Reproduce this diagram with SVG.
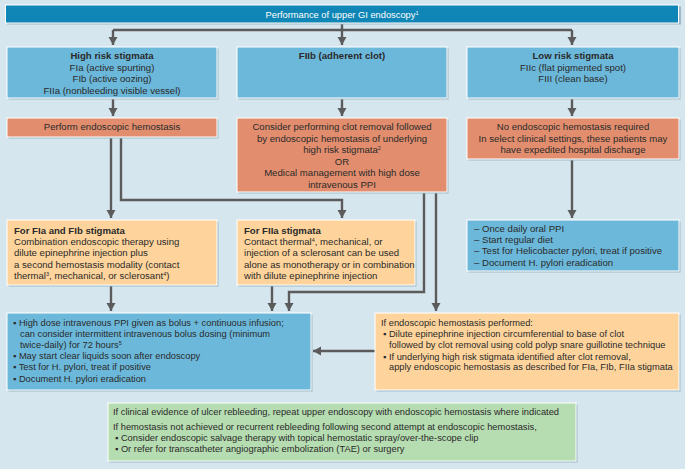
<svg xmlns="http://www.w3.org/2000/svg" width="685" height="469" viewBox="0 0 685 469">
<defs>
<marker id="ah" markerUnits="userSpaceOnUse" markerWidth="10" markerHeight="10" refX="8" refY="4.5" orient="auto">
<path d="M0,0 L8,4.5 L0,9 z" fill="#5b5b5b"/>
</marker>
<style>
.bg{fill:#d6e6ee}
.sh{fill:#9db9c8}
.box{stroke:#ffffff;stroke-width:1}
.title{fill:#0f86b6}
.blue{fill:#6cb8da}
.salmon{fill:#e28e6e}
.peach{fill:#fed49c}
.green{fill:#b6dcb1}
.c{font-family:"Liberation Sans",Arial,sans-serif;font-size:9.6px;fill:#2a2a2a}
.r{font-family:"Liberation Sans",Arial,sans-serif;font-size:9.3px;fill:#2a2a2a}
.m{text-anchor:middle}
.b{font-weight:bold}
.w{fill:#ffffff}
.tt{font-size:9.3px}
.sup{font-size:5.5px}
.ln{fill:none;stroke:#5b5b5b;stroke-width:2.4}
</style>
</defs>
<rect class="bg" x="0" y="0" width="685" height="469"/>

<g id="connectors">
<path class="ln" d="M342,23 V30 M113,30 H572"/>
<path class="ln" d="M113,30 V45" marker-end="url(#ah)"/>
<path class="ln" d="M342,30 V45" marker-end="url(#ah)"/>
<path class="ln" d="M572,30 V45" marker-end="url(#ah)"/>
<path class="ln" d="M113,98 V116" marker-end="url(#ah)"/>
<path class="ln" d="M342,98 V116" marker-end="url(#ah)"/>
<path class="ln" d="M572,98 V116" marker-end="url(#ah)"/>
<path class="ln" d="M111,137 V218" marker-end="url(#ah)"/>
<path class="ln" d="M121,137 V200 H342 V218" marker-end="url(#ah)"/>
<path class="ln" d="M424,192 V292 H289 V311" marker-end="url(#ah)"/>
<path class="ln" d="M436,192 V311" marker-end="url(#ah)"/>
<path class="ln" d="M572,159 V218" marker-end="url(#ah)"/>
<path class="ln" d="M111,285 V311" marker-end="url(#ah)"/>
<path class="ln" d="M272,285 V311" marker-end="url(#ah)"/>
<path class="ln" d="M375,351 H313" marker-end="url(#ah)"/>
</g>

<g id="top">
<rect class="sh" x="7" y="6.5" width="674" height="18"/>
<rect class="box title" x="5.5" y="5" width="673" height="18"/>
<text class="c m w tt" x="342" y="17.5">Performance of upper GI endoscopy<tspan class="sup" baseline-shift="super">1</tspan></text>
</g>

<g id="high-risk">
<rect class="sh" x="8.5" y="48.5" width="210" height="51"/>
<rect class="box blue" x="7" y="47" width="210" height="51"/>
<text class="c m" x="112" y="59"><tspan class="b">High risk stigmata</tspan><tspan x="112" dy="11.5">FIa (active spurting)</tspan><tspan x="112" dy="11.5">FIb (active oozing)</tspan><tspan x="112" dy="11.5">FIIa (nonbleeding visible vessel)</tspan></text>
</g>

<g id="adherent-clot">
<rect class="sh" x="238.5" y="48.5" width="210" height="51"/>
<rect class="box blue" x="237" y="47" width="210" height="51"/>
<text class="c m b" x="342" y="59">FIIb (adherent clot)</text>
</g>

<g id="low-risk">
<rect class="sh" x="468.5" y="48.5" width="212" height="51"/>
<rect class="box blue" x="467" y="47" width="212" height="51"/>
<text class="c m" x="573" y="59"><tspan class="b">Low risk stigmata</tspan><tspan x="573" dy="11.5">FIIc (flat pigmented spot)</tspan><tspan x="573" dy="11.5">FIII (clean base)</tspan></text>
</g>

<g id="perform-hemostasis">
<rect class="sh" x="8.5" y="119.5" width="210" height="19"/>
<rect class="box salmon" x="7" y="118" width="210" height="19"/>
<text class="c m" x="112" y="130">Perform endoscopic hemostasis</text>
</g>

<g id="clot-removal">
<rect class="sh" x="238.5" y="119.5" width="210" height="74"/>
<rect class="box salmon" x="237" y="118" width="210" height="74"/>
<text class="c m" x="342" y="130">Consider performing clot removal followed<tspan x="342" dy="11.6">by endoscopic hemostasis of underlying</tspan><tspan x="342" dy="11.6">high risk stigmata<tspan class="sup" baseline-shift="super">2</tspan></tspan><tspan x="342" dy="11.6">OR</tspan><tspan x="342" dy="11.6">Medical management with high dose</tspan><tspan x="342" dy="11.6">intravenous PPI</tspan></text>
</g>

<g id="no-hemostasis">
<rect class="sh" x="468.5" y="119.5" width="212" height="41"/>
<rect class="box salmon" x="467" y="118" width="212" height="41"/>
<text class="c m" x="573" y="130">No endoscopic hemostasis required<tspan x="573" dy="11.6">In select clinical settings, these patients may</tspan><tspan x="573" dy="11.6">have expedited hospital discharge</tspan></text>
</g>

<g id="fia-fib">
<rect class="sh" x="8.5" y="221.5" width="210" height="65"/>
<rect class="box peach" x="7" y="220" width="210" height="65"/>
<text class="c" x="14" y="233.5"><tspan class="b">For FIa and FIb stigmata</tspan><tspan x="14" dy="11.4">Combination endoscopic therapy using</tspan><tspan x="14" dy="11.4">dilute epinephrine injection plus</tspan><tspan x="14" dy="11.4">a second hemostasis modality (contact</tspan><tspan x="14" dy="11.4">thermal<tspan class="sup" baseline-shift="super">3</tspan>, mechanical, or sclerosant<tspan class="sup" baseline-shift="super">4</tspan>)</tspan></text>
</g>

<g id="fiia">
<rect class="sh" x="238.5" y="221.5" width="178" height="65"/>
<rect class="box peach" x="237" y="220" width="178" height="65"/>
<text class="c" x="244" y="233.5"><tspan class="b">For FIIa stigmata</tspan><tspan x="244" dy="11.4">Contact thermal<tspan class="sup" baseline-shift="super">4</tspan>, mechanical, or</tspan><tspan x="244" dy="11.4">injection of a sclerosant can be used</tspan><tspan x="244" dy="11.4">alone as monotherapy or in combination</tspan><tspan x="244" dy="11.4">with dilute epinephrine injection</tspan></text>
</g>

<g id="oral-ppi">
<rect class="sh" x="468.5" y="221.5" width="212" height="51"/>
<rect class="box blue" x="467" y="220" width="212" height="51"/>
<text class="c" x="474" y="231.5">– Once daily oral PPI<tspan x="474" dy="11.4">– Start regular diet</tspan><tspan x="474" dy="11.4">– Test for Helicobacter pylori, treat if positive</tspan><tspan x="474" dy="11.4">– Document H. pylori eradication</tspan></text>
</g>

<g id="iv-ppi">
<rect class="sh" x="8.5" y="314.5" width="304" height="77"/>
<rect class="box blue" x="7" y="313" width="304" height="77"/>
<text class="r" x="13" y="326"><tspan>▪ High dose intravenous PPI given as bolus + continuous infusion;</tspan><tspan x="20" dy="10.8">can consider intermittent intravenous bolus dosing (minimum</tspan><tspan x="20" dy="10.8">twice-daily) for 72 hours<tspan class="sup" baseline-shift="super">5</tspan></tspan><tspan x="13" dy="11.4">▪ May start clear liquids soon after endoscopy</tspan><tspan x="13" dy="11.4">▪ Test for H. pylori, treat if positive</tspan><tspan x="13" dy="11.4">▪ Document H. pylori eradication</tspan></text>
</g>

<g id="if-performed">
<rect class="sh" x="376.5" y="314.5" width="304" height="77"/>
<rect class="box peach" x="375" y="313" width="304" height="77"/>
<text class="r" x="381" y="326">If endoscopic hemostasis performed:<tspan x="383" dy="11.4">▪ Dilute epinephrine injection circumferential to base of clot</tspan><tspan x="389" dy="10.8">followed by clot removal using cold polyp snare guillotine technique</tspan><tspan x="383" dy="11.4">▪ If underlying high risk stigmata identified after clot removal,</tspan><tspan x="389" dy="10.8">apply endoscopic hemostasis as described for FIa, FIb, FIIa stigmata</tspan></text>
</g>

<g id="rebleeding">
<rect class="sh" x="109.5" y="404.5" width="468" height="58"/>
<rect class="box green" x="108" y="403" width="468" height="58"/>
<text class="r" x="113" y="415">If clinical evidence of ulcer rebleeding, repeat upper endoscopy with endoscopic hemostasis where indicated<tspan x="113" dy="15">If hemostasis not achieved or recurrent rebleeding following second attempt at endoscopic hemostasis,</tspan><tspan x="115" dy="11.2">▪ Consider endoscopic salvage therapy with topical hemostatic spray/over-the-scope clip</tspan><tspan x="115" dy="11.2">▪ Or refer for transcatheter angiographic embolization (TAE) or surgery</tspan></text>
</g>
</svg>
